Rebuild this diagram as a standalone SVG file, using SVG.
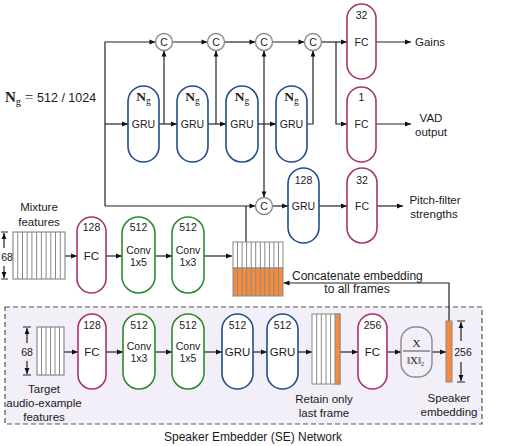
<svg xmlns="http://www.w3.org/2000/svg" width="522" height="446" viewBox="0 0 522 446">
<defs>
<marker id="ah" viewBox="0 0 10 10" refX="10" refY="5" markerWidth="7" markerHeight="6" markerUnits="userSpaceOnUse" orient="auto">
<path d="M0,1 L10,5 L0,9 z" fill="#111"/>
</marker>
<style>
.t{font-family:"Liberation Sans",Arial,sans-serif;fill:#1a1a1a;text-anchor:middle}
.s{font-size:10.5px}
.l{font-size:11.5px}
.m{font-size:12px}
.sf{font-family:"Liberation Serif","Times New Roman",serif;fill:#1a1a1a}
.fc{fill:#fff;stroke:#a8336f;stroke-width:1.6}
.cv{fill:#fff;stroke:#2f8a2f;stroke-width:1.6}
.gru{fill:#fff;stroke:#1f4e8a;stroke-width:1.6}
.cc{fill:#fff;stroke:#8a8a8a;stroke-width:1.4}
.ln{fill:none;stroke:#222;stroke-width:1.2}
.ar{fill:none;stroke:#222;stroke-width:1.2;marker-end:url(#ah)}
.gl{stroke:#8a8a8a;stroke-width:1}
.or{fill:#f58b3c;stroke:#8a8a8a;stroke-width:1}
</style>
</defs>
<rect width="522" height="446" fill="#fff"/>

<!-- SE network box -->
<g id="se-box">
<rect x="5" y="307" width="477" height="117" fill="#f3eff8" stroke="#555" stroke-width="1.2" stroke-dasharray="5,3"/>
<text class="t m" x="253" y="441">Speaker Embedder (SE) Network</text>
</g>

<!-- Ng label -->
<g id="ng-label">
<text x="5" y="102" font-size="15"><tspan class="sf" font-weight="bold">N</tspan><tspan class="sf" font-size="10.5" dy="3">g</tspan><tspan class="sf" dy="-3"> = </tspan><tspan font-family="Liberation Sans,Arial,sans-serif" fill="#1a1a1a" font-size="12.5">512 / 1024</tspan></text>
</g>

<!-- connectors -->
<g id="connectors">
<path class="ar" d="M105,206 V42 H155.5"/>
<path class="ar" d="M172.5,42 H207.5"/>
<path class="ar" d="M224.5,42 H255.5"/>
<path class="ar" d="M272.5,42 H304.5"/>
<path class="ar" d="M321.5,42 H347"/>
<path class="ar" d="M336,42 V124 H347"/>
<path class="ar" d="M105,124 H128"/>
<path class="ar" d="M159,124 H177"/>
<path class="ar" d="M164,124 V50.5"/>
<path class="ar" d="M208,124 H226"/>
<path class="ar" d="M216,124 V50.5"/>
<path class="ar" d="M258,124 H276"/>
<path class="ar" d="M264,124 V50.5"/>
<path class="ar" d="M264,124 V197.5"/>
<path class="ar" d="M307,124 H313 V50.5"/>
<path class="ar" d="M376,42 H411"/>
<path class="ar" d="M376,124 H411"/>
<path class="ar" d="M105,206 H255.5"/>
<path class="ln" d="M246,242 V206"/>
<path class="ar" d="M272.5,206 H288"/>
<path class="ar" d="M319,206 H347"/>
<path class="ar" d="M377,206 H403"/>
<path class="ar" d="M65,256 H77"/>
<path class="ar" d="M106,256 H122"/>
<path class="ar" d="M155,256 H172"/>
<path class="ar" d="M204,256 H232"/>
<path class="ar" d="M449,321 V283 H283.5"/>
<path class="ar" d="M64,352 H78"/>
<path class="ar" d="M106,352 H123"/>
<path class="ar" d="M155,352 H172"/>
<path class="ar" d="M204,352 H222"/>
<path class="ar" d="M253,352 H267"/>
<path class="ar" d="M298,352 H312"/>
<path class="ar" d="M340,352 H358"/>
<path class="ar" d="M387,352 H401"/>
<path class="ar" d="M432,352 H446"/>
</g>

<!-- concat circles -->
<g id="c1"><circle class="cc" cx="164" cy="42" r="8.5"/><text class="t s" x="164" y="46">C</text></g>
<g id="c2"><circle class="cc" cx="216" cy="42" r="8.5"/><text class="t s" x="216" y="46">C</text></g>
<g id="c3"><circle class="cc" cx="264" cy="42" r="8.5"/><text class="t s" x="264" y="46">C</text></g>
<g id="c4"><circle class="cc" cx="313" cy="42" r="8.5"/><text class="t s" x="313" y="46">C</text></g>
<g id="c5"><circle class="cc" cx="264" cy="206" r="8.5"/><text class="t s" x="264" y="210">C</text></g>

<!-- GRU row -->
<g id="gru1"><rect class="gru" x="128" y="86" width="31" height="76" rx="15.5"/><text class="sf" x="143.5" y="101" font-size="13.5" text-anchor="middle" font-weight="bold">N<tspan font-size="9.5" font-weight="normal" dy="3">g</tspan></text><text class="t s" x="143.5" y="128">GRU</text></g>
<g id="gru2"><rect class="gru" x="177" y="86" width="31" height="76" rx="15.5"/><text class="sf" x="192.5" y="101" font-size="13.5" text-anchor="middle" font-weight="bold">N<tspan font-size="9.5" font-weight="normal" dy="3">g</tspan></text><text class="t s" x="192.5" y="128">GRU</text></g>
<g id="gru3"><rect class="gru" x="226" y="86" width="32" height="76" rx="16"/><text class="sf" x="242" y="101" font-size="13.5" text-anchor="middle" font-weight="bold">N<tspan font-size="9.5" font-weight="normal" dy="3">g</tspan></text><text class="t s" x="242" y="128">GRU</text></g>
<g id="gru4"><rect class="gru" x="276" y="86" width="31" height="76" rx="15.5"/><text class="sf" x="291.5" y="101" font-size="13.5" text-anchor="middle" font-weight="bold">N<tspan font-size="9.5" font-weight="normal" dy="3">g</tspan></text><text class="t s" x="291.5" y="128">GRU</text></g>

<!-- output FCs -->
<g id="fc-gains"><rect class="fc" x="347" y="4" width="29" height="75" rx="14.5"/><text class="t s" x="361.5" y="19">32</text><text class="t s" x="361.5" y="46">FC</text></g>
<g id="fc-vad"><rect class="fc" x="347" y="87" width="29" height="75" rx="14.5"/><text class="t s" x="361.5" y="101">1</text><text class="t s" x="361.5" y="128">FC</text></g>
<g id="gains-label"><text class="t l" x="415" y="46" style="text-anchor:start">Gains</text></g>
<g id="vad-label"><text class="t l" x="431" y="122">VAD</text><text class="t l" x="431" y="136">output</text></g>

<!-- pitch branch -->
<g id="gru-pitch"><rect class="gru" x="288" y="168" width="31" height="75" rx="15.5"/><text class="t s" x="303.5" y="184">128</text><text class="t s" x="303.5" y="210">GRU</text></g>
<g id="fc-pitch"><rect class="fc" x="347" y="168" width="30" height="75" rx="15"/><text class="t s" x="362" y="184">32</text><text class="t s" x="362" y="210">FC</text></g>
<g id="pitch-label"><text class="t l" x="435" y="204">Pitch-filter</text><text class="t l" x="434" y="218">strengths</text></g>

<!-- mixture features -->
<g id="mixture">
<text class="t l" x="39" y="211">Mixture</text>
<text class="t l" x="39" y="226">features</text>
<rect x="13" y="232" width="52" height="47" fill="#fff" stroke="#777" stroke-width="1"/>
<path class="gl" d="M17.7,232V279M22.5,232V279M27.2,232V279M31.9,232V279M36.6,232V279M41.4,232V279M46.1,232V279M50.8,232V279M55.5,232V279M60.3,232V279"/>
<path class="ln" d="M1,232H8M1,279H8"/>
<path class="ar" d="M4,248V233"/>
<path class="ar" d="M4,266V278"/>
<text class="t s" x="7" y="261">68</text>
</g>

<g id="fc-mix"><rect class="fc" x="77" y="217" width="29" height="76" rx="14.5"/><text class="t s" x="91.5" y="231">128</text><text class="t l" x="91.5" y="260">FC</text></g>
<g id="conv-mix1"><rect class="cv" x="122" y="217" width="33" height="76" rx="16.5"/><text class="t s" x="138.5" y="231">512</text><text class="t s" x="138.5" y="254">Conv</text><text class="t s" x="138.5" y="266">1x5</text></g>
<g id="conv-mix2"><rect class="cv" x="172" y="217" width="32" height="76" rx="16"/><text class="t s" x="188" y="231">512</text><text class="t s" x="188" y="254">Conv</text><text class="t s" x="188" y="266">1x3</text></g>

<!-- concatenated frames -->
<g id="concat">
<rect x="233" y="242" width="50" height="26" fill="#fff" stroke="#888" stroke-width="1"/>
<rect class="or" x="233" y="268" width="50" height="28"/>
<path class="gl" d="M237.5,242V296M242.1,242V296M246.6,242V296M251.2,242V296M255.7,242V296M260.3,242V296M264.8,242V296M269.4,242V296M273.9,242V296M278.5,242V296"/>
<text class="t m" x="292" y="280" style="text-anchor:start">Concatenate embedding</text>
<text class="t m" x="357" y="293">to all frames</text>
</g>

<!-- SE row -->
<g id="target">
<rect x="37" y="327" width="27" height="48" fill="#fff" stroke="#777" stroke-width="1"/>
<path class="gl" d="M41.5,327V375M46,327V375M50.5,327V375M55,327V375M59.5,327V375"/>
<path class="ln" d="M23,327H31M23,375H31"/>
<path class="ar" d="M27,343V328"/>
<path class="ar" d="M27,361V374"/>
<text class="t s" x="27" y="356">68</text>
<text class="t l" x="44" y="393">Target</text>
<text class="t l" x="44" y="407">audio-example</text>
<text class="t l" x="44" y="421">features</text>
</g>
<g id="se-fc1"><rect class="fc" x="78" y="314" width="28" height="75" rx="14"/><text class="t s" x="92" y="329">128</text><text class="t l" x="92" y="356">FC</text></g>
<g id="se-conv1"><rect class="cv" x="123" y="314" width="32" height="75" rx="16"/><text class="t s" x="139" y="329">512</text><text class="t s" x="139" y="350">Conv</text><text class="t s" x="139" y="362">1x3</text></g>
<g id="se-conv2"><rect class="cv" x="172" y="314" width="32" height="75" rx="16"/><text class="t s" x="188" y="329">512</text><text class="t s" x="188" y="350">Conv</text><text class="t s" x="188" y="362">1x5</text></g>
<g id="se-gru1"><rect class="gru" x="222" y="314" width="31" height="75" rx="15.5"/><text class="t s" x="237.5" y="329">512</text><text class="t l" x="237.5" y="356">GRU</text></g>
<g id="se-gru2"><rect class="gru" x="267" y="314" width="31" height="75" rx="15.5"/><text class="t s" x="282.5" y="329">512</text><text class="t l" x="282.5" y="356">GRU</text></g>
<g id="retain">
<rect x="312" y="314" width="28" height="70" fill="#fff" stroke="#888" stroke-width="1"/>
<rect class="or" x="335" y="314" width="5" height="70"/>
<path class="gl" d="M316.7,314V384M321.3,314V384M326,314V384M330.6,314V384"/>
<text class="t l" x="324" y="403">Retain only</text>
<text class="t l" x="324" y="417">last frame</text>
</g>
<g id="se-fc2"><rect class="fc" x="358" y="314" width="29" height="75" rx="14.5"/><text class="t s" x="372.5" y="329">256</text><text class="t l" x="372.5" y="356">FC</text></g>
<g id="norm">
<rect x="401" y="327" width="31" height="50" rx="14" fill="#f3eff8" stroke="#8a8a8a" stroke-width="1.4"/>
<text class="sf" x="416.5" y="347" font-size="11" text-anchor="middle">X</text>
<path d="M403,351H430" stroke="#666" stroke-width="1.2"/>
<text class="sf" x="415.5" y="364" font-size="11" text-anchor="middle">‖X‖<tspan font-size="6" dy="2">2</tspan></text>
</g>
<g id="speaker-emb">
<rect class="or" x="446" y="321" width="6" height="61"/>
<path class="ln" d="M457,321H465M457,382H465"/>
<path class="ar" d="M461,341V322"/>
<path class="ar" d="M461,362V381"/>
<text class="t s" x="463" y="356">256</text>
<text class="t l" x="449" y="402">Speaker</text>
<text class="t l" x="449" y="416">embedding</text>
</g>
</svg>
